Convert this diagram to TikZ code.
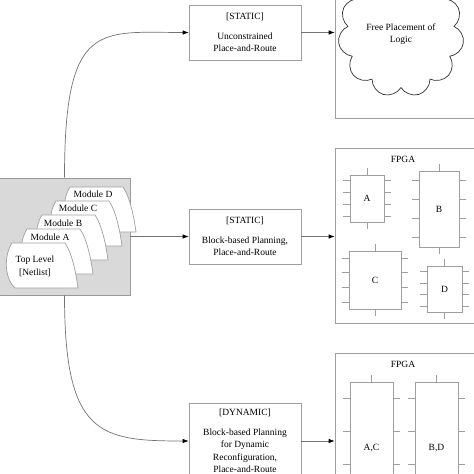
\documentclass[tikz,border=0pt]{standalone}
\usepackage{fontspec}
\setmainfont{Liberation Serif}
\usetikzlibrary{arrows.meta, shapes.symbols, calc}

\tikzset{
  boxline/.style={draw=gray!75, line width=0.7pt},
  stagebox/.style={boxline, fill=white, minimum width=112, minimum height=55, align=center, inner sep=2pt},
  panel/.style={boxline, fill=white},
  conn/.style={draw=gray!90!black, line width=0.7pt, -{Latex[length=6pt,width=4.5pt,color=black]}},
  blk/.style={boxline, fill=white, inner sep=0pt},
  pin/.style={draw=gray!75, line width=0.7pt},
  modpage/.pic={
    \draw[boxline, fill=white] (0,0) -- (53,0) .. controls (60,10) and (64,30) .. (66,45)
      -- (3,45) .. controls (-8,35) and (-8,12) .. (0,0) -- cycle;
  },
}

\begin{document}
\begin{tikzpicture}[x=1pt, y=-1pt, font=\fontsize{9.5pt}{12.5pt}\selectfont]
  \useasboundingbox (0,0) rectangle (474,474);
  \clip (0,0) rectangle (474,474);

  % source netlist
  \node[draw=gray!80, fill=gray!30, line width=0.7pt, minimum width=131, minimum height=117] (src) at (64.5,236.5) {};
  \foreach \px/\py in {70/187, 56/201, 42/215, 27/229, 12/243}
    \pic at (\px,\py) {modpage};
  \node (modD) at (93,194) {Module D};
  \node (modC) at (78,208) {Module C};
  \node (modB) at (63,223) {Module B};
  \node (modA) at (50,237) {Module A};
  \node[align=center] (toplvl) at (35,266.5) {Top Level\\{[Netlist]}};

  % flows
  \node[stagebox] (unc) at (245,32.5) {[STATIC]\\[7pt]Unconstrained\\Place-and-Route};
  \node[stagebox] (blkp) at (245,236.5) {[STATIC]\\[7pt]Block-based Planning,\\Place-and-Route};
  \node[stagebox, minimum height=76] (dynp) at (245,441) {[DYNAMIC]\\[7pt]Block-based Planning\\for Dynamic\\Reconfiguration,\\Place-and-Route};

  % result panels
  \node[panel, minimum width=150, minimum height=140] (pan1) at (410,48) {};
  \node[panel, minimum width=150, minimum height=175] (pan2) at (410,235.5) {};
  \node[panel, minimum width=150, minimum height=137] (pan3) at (410,421.5) {};

  \node[cloud, cloud puffs=11, draw=gray!40!black, line width=0.7pt, minimum width=92, minimum height=86, align=center] (cloud) at (401,34) {Free Placement of\\Logic};

  \node (fpga2) at (403,159) {FPGA};
  \node (fpga3) at (403,364) {FPGA};

  \foreach \nm/\cx/\cy/\w/\h/\lbl in {A/367/198.5/34/47/A, B/439/209/40/76/B, C/375/280/52/58/C,
      D/444.5/289/35/46/D, AC/371.5/448/43/132/{A,C}, BD/436.5/448/43/132/{B,D}} {
    \node[blk, minimum width=\w, minimum height=\h] (\nm) at (\cx,\cy) {\lbl};
    \draw[pin] (\nm.north) -- ++(0,-7);
    \draw[pin] (\nm.south) -- ++(0,7);
    \foreach \k in {1,...,4} {
      \draw[pin] ($(\nm.north west)!{(\k-0.5)/4}!(\nm.south west)$) -- ++(-7,0);
      \draw[pin] ($(\nm.north east)!{(\k-0.5)/4}!(\nm.south east)$) -- ++(7,0);
    }
  }

  % connectors
  \draw[conn] (src.north) .. controls +(0,-158) and +(-89,0) .. (unc.west);
  \draw[conn] (src.east) -- (blkp.west);
  \draw[conn] (src.south) .. controls +(0,140) and +(-89,0) .. (dynp.west);
  \draw[conn] (unc.east) -- (unc.east -| pan1.west);
  \draw[conn] (blkp.east) -- (blkp.east -| pan2.west);
  \draw[conn] (dynp.east) -- (dynp.east -| pan3.west);
\end{tikzpicture}
\end{document}
